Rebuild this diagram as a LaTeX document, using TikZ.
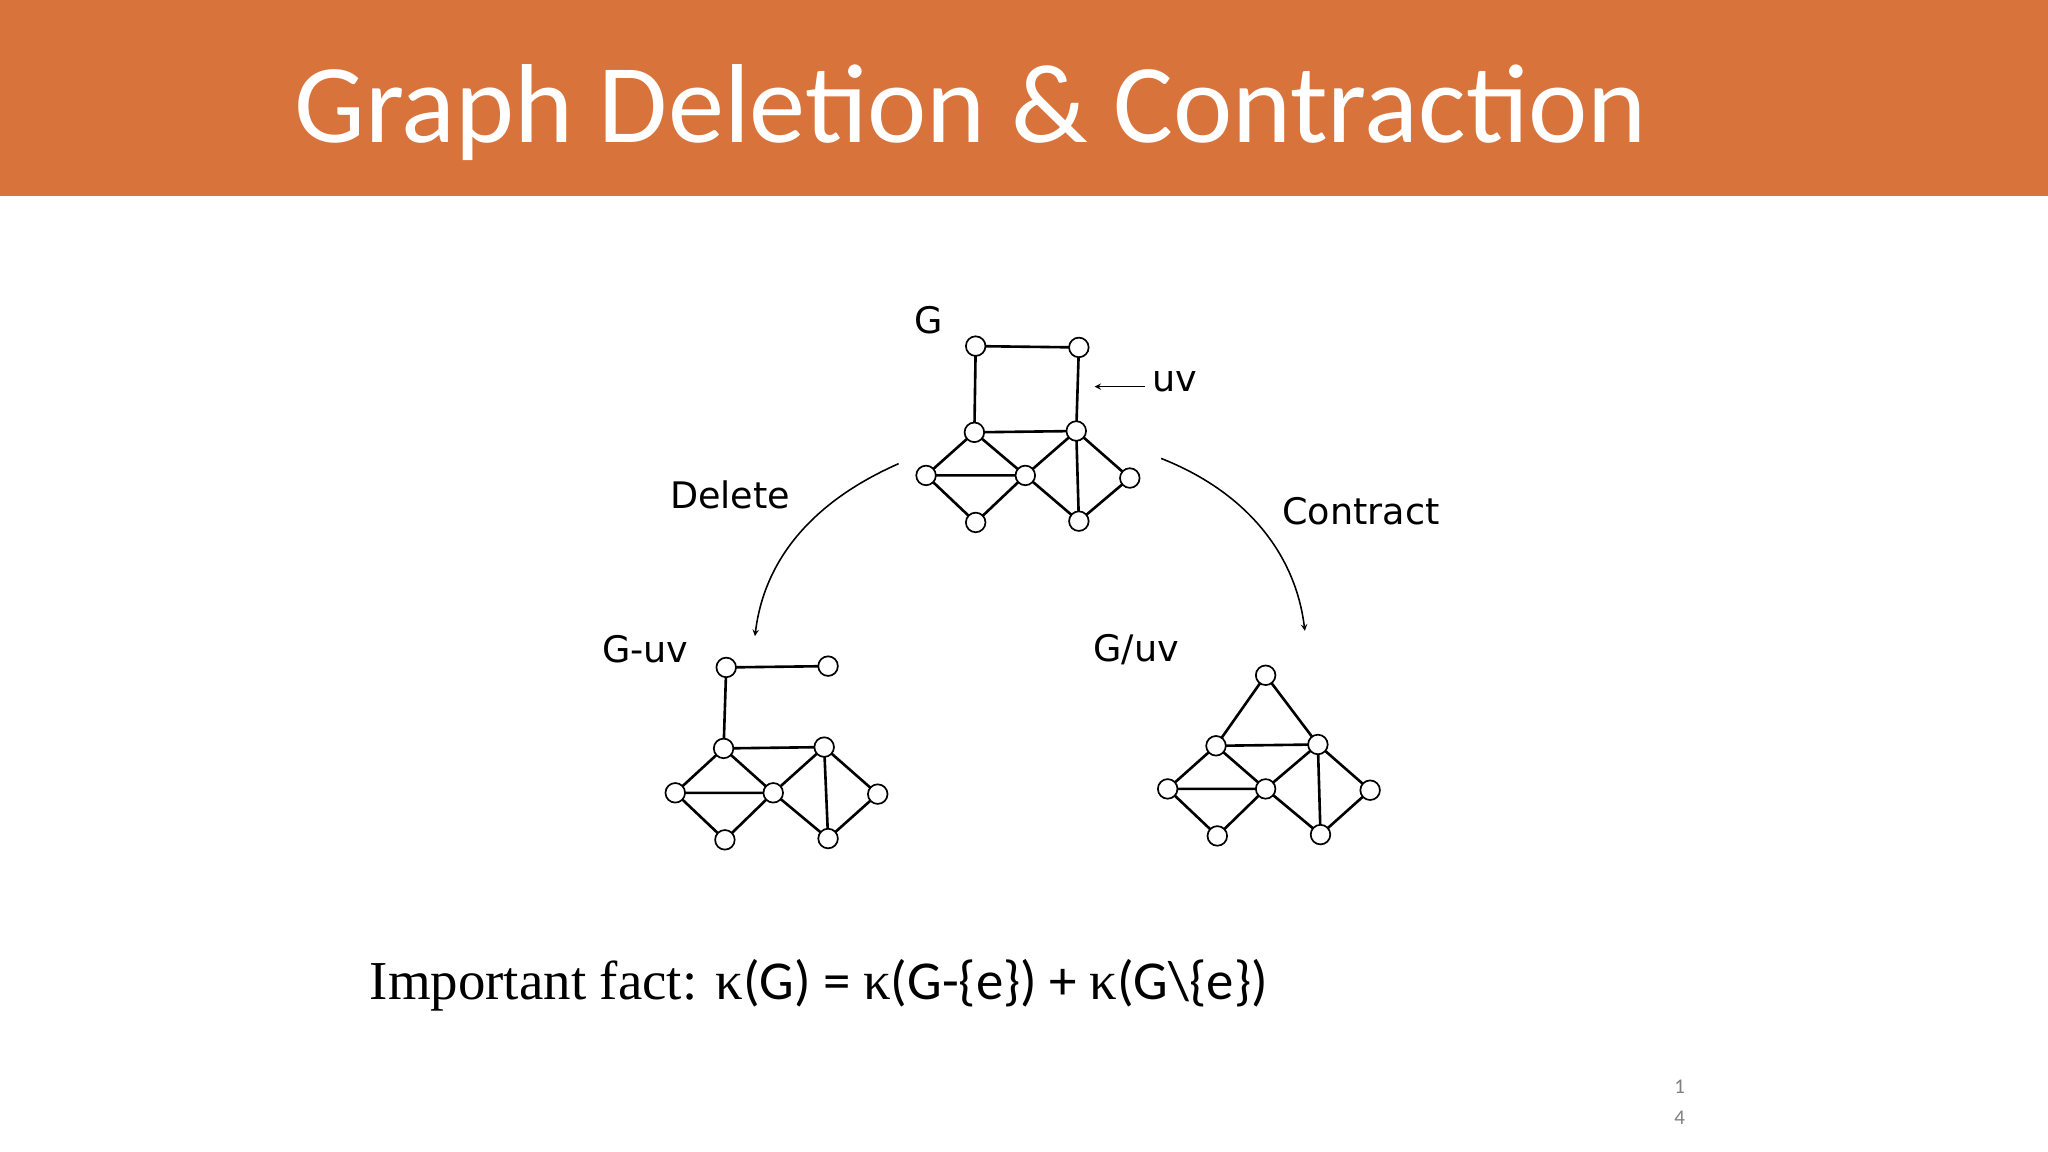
\documentclass[tikz,border=0pt]{standalone}
\usepackage{fontspec}
\setmainfont{Carlito}
\newfontfamily\serif{Liberation Serif}
\newfontfamily\dv{DejaVu Sans}
\definecolor{band}{RGB}{217,115,60}
\begin{document}
\begin{tikzpicture}[x=1pt,y=-1pt,
  v/.style={circle,draw,fill=white,line width=1.3pt,minimum size=15pt,inner sep=0pt},
  ed/.style={line width=2pt},
  lab/.style={font=\dv\fontsize{28}{30}\selectfont,inner sep=0pt},
  arr/.style={-stealth,line width=1.2pt}]
\useasboundingbox (0,0) rectangle (1568,882);
\fill[band] (0,0) rectangle (1568,150);
\node[anchor=base west,text=white,font=\fontsize{86}{90}\selectfont,inner sep=0pt] (title) at (225,109) {Graph Deletion \& Contraction};
% G
\foreach \n/\x/\y in {a/747/265,b/826/266,c/746/331,d/824/330,e/709/364,f/785/364,g/865/366,h/747/400,i/826/399}
  \coordinate (G\n) at (\x,\y);
\draw[ed] (Ga)--(Gb) (Ga)--(Gc) (Gb)--(Gd) (Gc)--(Gd) (Gc)--(Ge) (Gc)--(Gf) (Ge)--(Gf) (Ge)--(Gh) (Gh)--(Gf) (Gf)--(Gd) (Gd)--(Gg) (Gd)--(Gi) (Gf)--(Gi) (Gi)--(Gg);
\foreach \n in {a,b,c,d,e,f,g,h,i} \node[v] (NG\n) at (G\n) {};
% G-uv
\foreach \n/\x/\y in {a/556/511,b/634/510,c/554/573,d/631/572,e/517/607,f/592/607,g/672/608,h/555/643,i/634/642}
  \coordinate (D\n) at (\x,\y);
\draw[ed] (Da)--(Db) (Da)--(Dc) (Dc)--(Dd) (Dc)--(De) (Dc)--(Df) (De)--(Df) (De)--(Dh) (Dh)--(Df) (Df)--(Dd) (Dd)--(Dg) (Dd)--(Di) (Df)--(Di) (Di)--(Dg);
\foreach \n in {a,b,c,d,e,f,g,h,i} \node[v] (ND\n) at (D\n) {};
% G/uv
\foreach \n/\x/\y in {t/969/517,c/931/571,d/1009/570,e/894/604,f/969/604,g/1049/605,h/932/640,i/1011/639}
  \coordinate (C\n) at (\x,\y);
\draw[ed] (Ct)--(Cc) (Ct)--(Cd) (Cc)--(Cd) (Cc)--(Ce) (Cc)--(Cf) (Ce)--(Cf) (Ce)--(Ch) (Ch)--(Cf) (Cf)--(Cd) (Cd)--(Cg) (Cd)--(Ci) (Cf)--(Ci) (Ci)--(Cg);
\foreach \n in {t,c,d,e,f,g,h,i} \node[v] (NC\n) at (C\n) {};
% labels
\node[lab] (lG) at (711,245) {G};
\node[lab,anchor=west] (luv) at (882,292) {uv};
\coordinate (uvst) at (877,296);
\coordinate (uvend) at (838,296);
\draw[arr] (uvst) -- (uvend);
\node[lab] (ldel) at (559,379) {Delete};
\node[lab] (lcon) at (1042,391) {Contract};
\node[lab] (lguv) at (494,497) {G-uv};
\node[lab] (lgc) at (870,497) {G/uv};
\coordinate (l1) at (688,355); \coordinate (l2) at (578,487);
\coordinate (r1) at (889,351); \coordinate (r2) at (999,483);
\draw[arr] (l1) .. controls (620,385) and (585,430) .. (l2);
\draw[arr] (r1) .. controls (955,377) and (992,425) .. (r2);
\node[anchor=base west,inner sep=0pt,font=\fontsize{42}{44}\selectfont] (fact) at (283,765) {{\serif Important fact: κ}(G) = {\serif κ}(G-\{e\}) + {\serif κ}(G\textbackslash\{e\})};
\node[text=gray,font=\fontsize{16}{18}\selectfont] (p1) at (1286,832) {1};
\node[text=gray,font=\fontsize{16}{18}\selectfont] (p2) at (1286,856) {4};
\end{tikzpicture}
\end{document}
